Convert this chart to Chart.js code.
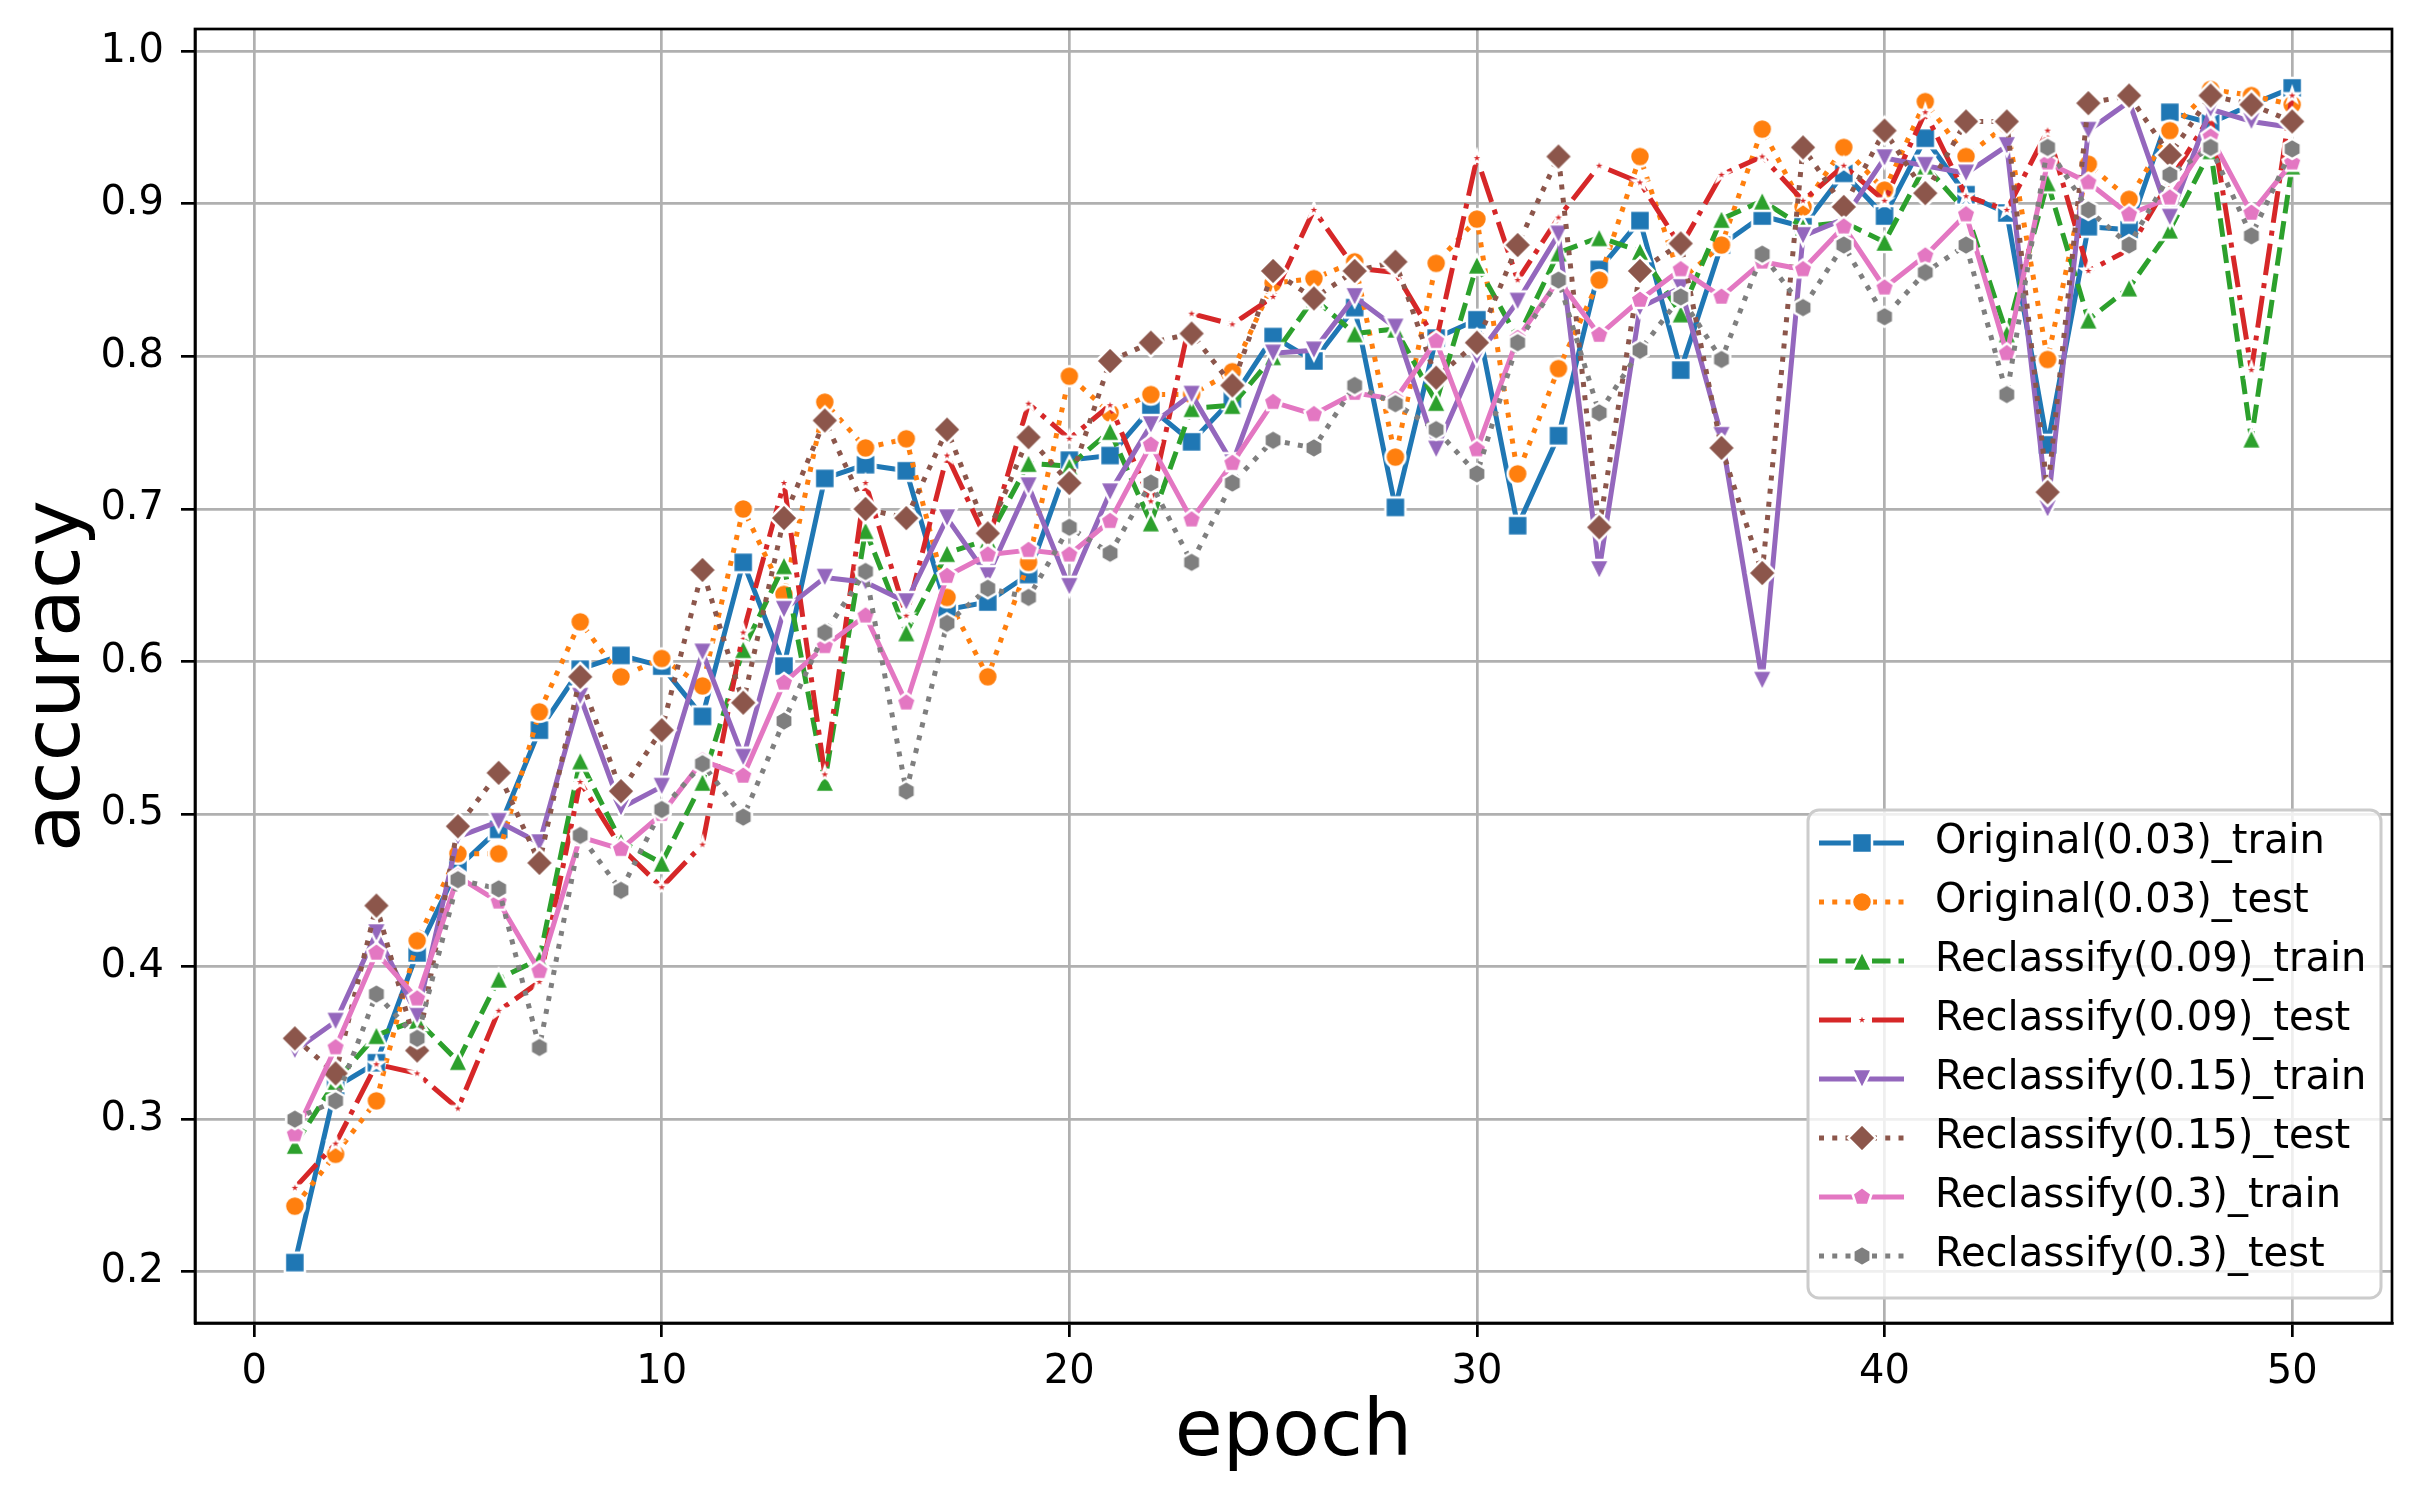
<!DOCTYPE html>
<html>
<head>
<meta charset="utf-8">
<script src="https://cdn.jsdelivr.net/npm/chart.js@4.4.1/dist/chart.umd.min.js"></script>
<style>
html,body{margin:0;padding:0;background:#ffffff;}
canvas{display:block;}
</style>
</head>
<body>
<canvas id="chart" width="2420" height="1501" style="width:2420px;height:1501px"></canvas>
<script>
// ---------------- data ----------------
const epochs = [1,2,3,4,5,6,7,8,9,10,11,12,13,14,15,16,17,18,19,20,21,22,23,24,25,26,27,28,29,30,31,32,33,34,35,36,37,38,39,40,41,42,43,44,45,46,47,48,49,50];
const xTicks = [0,10,20,30,40,50];
const yTicks = [0.2,0.3,0.4,0.5,0.6,0.7,0.8,0.9,1.0];
const seriesNames = ["Original(0.03)_train","Original(0.03)_test","Reclassify(0.09)_train","Reclassify(0.09)_test","Reclassify(0.15)_train","Reclassify(0.15)_test","Reclassify(0.3)_train","Reclassify(0.3)_test"];

const originalTrain = [0.206,0.321,0.337,0.409,0.465,0.490,0.555,0.595,0.604,0.597,0.564,0.665,0.597,0.720,0.729,0.725,0.634,0.639,0.657,0.732,0.735,0.766,0.744,0.772,0.813,0.797,0.832,0.701,0.812,0.824,0.689,0.748,0.857,0.889,0.791,0.873,0.892,0.885,0.920,0.892,0.943,0.906,0.894,0.742,0.885,0.883,0.960,0.953,0.965,0.976];
const originalTest = [0.243,0.277,0.312,0.417,0.474,0.474,0.567,0.626,0.590,0.602,0.584,0.700,0.644,0.770,0.740,0.746,0.642,0.590,0.665,0.787,0.763,0.775,0.775,0.790,0.848,0.851,0.862,0.734,0.861,0.890,0.723,0.792,0.850,0.931,0.850,0.873,0.949,0.898,0.937,0.909,0.967,0.931,0.952,0.798,0.926,0.903,0.948,0.975,0.971,0.965];
const reclass09Train = [0.283,0.325,0.355,0.365,0.338,0.392,0.405,0.535,0.482,0.468,0.521,0.608,0.663,0.521,0.686,0.619,0.671,0.680,0.730,0.728,0.751,0.691,0.766,0.768,0.800,0.838,0.815,0.818,0.770,0.860,0.812,0.868,0.878,0.869,0.828,0.890,0.902,0.885,0.888,0.875,0.925,0.895,0.815,0.914,0.824,0.845,0.883,0.935,0.746,0.925];
const reclass09Test = [0.255,0.284,0.336,0.330,0.307,0.371,0.390,0.521,0.478,0.452,0.480,0.619,0.717,0.526,0.717,0.630,0.735,0.678,0.769,0.746,0.768,0.705,0.828,0.821,0.839,0.896,0.858,0.855,0.810,0.930,0.850,0.891,0.925,0.914,0.872,0.919,0.931,0.902,0.925,0.902,0.960,0.905,0.896,0.948,0.856,0.870,0.915,0.958,0.791,0.971];
const reclass15Train = [0.345,0.364,0.422,0.368,0.485,0.495,0.481,0.577,0.504,0.518,0.606,0.537,0.634,0.655,0.652,0.639,0.694,0.656,0.715,0.649,0.711,0.755,0.775,0.730,0.802,0.804,0.839,0.819,0.739,0.800,0.836,0.880,0.660,0.832,0.845,0.748,0.5875,0.879,0.890,0.930,0.925,0.920,0.938,0.700,0.948,0.967,0.891,0.962,0.954,0.950];
const reclass15Test = [0.353,0.330,0.440,0.345,0.492,0.527,0.468,0.590,0.515,0.555,0.660,0.573,0.694,0.758,0.700,0.694,0.752,0.684,0.747,0.717,0.797,0.809,0.815,0.781,0.856,0.838,0.856,0.862,0.786,0.809,0.873,0.931,0.688,0.856,0.874,0.740,0.658,0.937,0.898,0.948,0.907,0.954,0.954,0.711,0.966,0.971,0.932,0.971,0.965,0.954];
const reclass30Train = [0.290,0.347,0.409,0.379,0.459,0.4425,0.397,0.485,0.477,0.500,0.535,0.525,0.586,0.610,0.630,0.573,0.656,0.670,0.673,0.670,0.692,0.742,0.693,0.730,0.770,0.762,0.776,0.772,0.810,0.739,0.812,0.850,0.814,0.837,0.857,0.839,0.862,0.857,0.885,0.845,0.866,0.893,0.802,0.927,0.914,0.893,0.904,0.944,0.894,0.927];
const reclass30Test = [0.300,0.312,0.382,0.353,0.457,0.451,0.347,0.486,0.450,0.503,0.533,0.498,0.561,0.619,0.659,0.515,0.625,0.648,0.642,0.688,0.671,0.717,0.665,0.717,0.745,0.740,0.781,0.769,0.752,0.723,0.809,0.850,0.763,0.804,0.839,0.798,0.867,0.832,0.873,0.826,0.855,0.873,0.775,0.937,0.896,0.873,0.919,0.937,0.879,0.936];

const seriesValues = [originalTrain, originalTest, reclass09Train, reclass09Test, reclass15Train, reclass15Test, reclass30Train, reclass30Test];

// ---------------- styles ----------------
const colors = ['#1f77b4','#ff7f0e','#2ca02c','#d62728','#9467bd','#8c564b','#e377c2','#7f7f7f'];
const markers = ['s','o','^','*','v','D','p','h'];
const DOT = [5, 8.25], DASH = [18.5, 8], DASHDOT = [32, 8, 5, 8], SOLID = [];
const dashes = [SOLID, DOT, DASH, DASHDOT, SOLID, DOT, SOLID, DOT];
const FONT = "'DejaVu Sans', 'Liberation Sans', sans-serif";

function polyPath(ctx, cx, cy, n, r, startAngle) {
  ctx.beginPath();
  for (let k = 0; k < n; k++) {
    const a = startAngle + k * 2 * Math.PI / n;
    const px = cx + r * Math.cos(a), py = cy + r * Math.sin(a);
    if (k === 0) ctx.moveTo(px, py); else ctx.lineTo(px, py);
  }
  ctx.closePath();
}

function makeMarker(kind, color) {
  const S = 40, c = S / 2;
  const cv = document.createElement('canvas');
  cv.width = S; cv.height = S;
  const ctx = cv.getContext('2d');
  ctx.fillStyle = color;
  ctx.strokeStyle = '#ffffff';
  ctx.lineWidth = 2.5;
  ctx.lineJoin = 'miter';
  const up = -Math.PI / 2;
  switch (kind) {
    case 's':
      ctx.beginPath(); ctx.rect(c - 10, c - 10, 20, 20); break;
    case 'o':
      ctx.beginPath(); ctx.arc(c, c, 10, 0, 2 * Math.PI); break;
    case '^':
      ctx.beginPath(); ctx.moveTo(c, c - 10); ctx.lineTo(c + 10, c + 10); ctx.lineTo(c - 10, c + 10); ctx.closePath(); break;
    case 'v':
      ctx.beginPath(); ctx.moveTo(c, c + 10); ctx.lineTo(c + 10, c - 10); ctx.lineTo(c - 10, c - 10); ctx.closePath(); break;
    case 'D':
      polyPath(ctx, c, c, 4, 14, up); break;
    case 'p':
      polyPath(ctx, c, c, 5, 10, up); break;
    case 'h':
      polyPath(ctx, c, c, 6, 10, up); break;
    case '*': {
      const R = 7.5, r = R * 0.381966;
      ctx.beginPath();
      for (let k = 0; k < 10; k++) {
        const a = up + k * Math.PI / 5;
        const rr = (k % 2 === 0) ? R : r;
        const px = c + rr * Math.cos(a), py = c + rr * Math.sin(a);
        if (k === 0) ctx.moveTo(px, py); else ctx.lineTo(px, py);
      }
      ctx.closePath();
      break;
    }
  }
  ctx.fill();
  ctx.stroke();
  return cv;
}

const markerImgs = markers.map((m, i) => makeMarker(m, colors[i]));

const datasets = seriesValues.map((vals, i) => ({
  label: seriesNames[i],
  data: epochs.map((e, k) => ({ x: e, y: vals[k] })),
  borderColor: colors[i],
  backgroundColor: colors[i],
  borderWidth: 5,
  borderDash: dashes[i],
  borderCapStyle: 'butt',
  borderJoinStyle: 'round',
  tension: 0,
  fill: false,
  pointStyle: markerImgs[i],
  pointRadius: 10,
  pointHoverRadius: 10,
  order: seriesValues.length - 1 - i
}));

// ---------------- layout constants ----------------
const AREA = { left: 195, right: 2392, top: 29, bottom: 1323 };
const W = 2420, H = 1501;

function zeroPadding(scale) {
  scale.paddingTop = 0;
  scale.paddingBottom = 0;
  scale.paddingLeft = 0;
  scale.paddingRight = 0;
}

const spinesPlugin = {
  id: 'spines',
  afterDatasetsDraw(chart) {
    const { ctx, chartArea: a } = chart;
    ctx.save();
    ctx.strokeStyle = '#000000';
    ctx.lineWidth = 2.7;
    ctx.setLineDash([]);
    ctx.strokeRect(a.left, a.top, a.right - a.left, a.bottom - a.top);
    ctx.restore();
  }
};

const legendPlugin = {
  id: 'mplLegend',
  afterDraw(chart) {
    const ctx = chart.ctx;
    const box = { left: 1808, right: 2381, top: 810, bottom: 1298 };
    ctx.save();
    ctx.beginPath();
    ctx.roundRect(box.left, box.top, box.right - box.left, box.bottom - box.top, 11);
    ctx.fillStyle = 'rgba(255,255,255,0.8)';
    ctx.fill();
    ctx.lineWidth = 3;
    ctx.strokeStyle = '#cccccc';
    ctx.stroke();
    const rowY0 = 843, rowStep = 59;
    const hx0 = 1819, hx1 = 1904, mx = 1862, tx = 1935;
    seriesNames.forEach((name, i) => {
      const y = rowY0 + i * rowStep;
      ctx.beginPath();
      ctx.setLineDash(dashes[i]);
      ctx.lineCap = 'butt';
      ctx.lineWidth = 5;
      ctx.strokeStyle = colors[i];
      ctx.moveTo(hx0, y); ctx.lineTo(hx1, y);
      ctx.stroke();
      ctx.setLineDash([]);
      const img = markerImgs[i];
      ctx.drawImage(img, mx - img.width / 2, y - img.height / 2);
      ctx.fillStyle = '#000000';
      ctx.font = '40px ' + FONT;
      ctx.textAlign = 'left';
      ctx.textBaseline = 'middle';
      ctx.fillText(name, tx, y);
    });
    ctx.restore();
  }
};

const gridOpts = {
  color: '#b0b0b0',
  lineWidth: 2.7,
  drawTicks: true,
  tickColor: '#000000',
  tickLength: 14,
  tickWidth: 2.7
};

new Chart(document.getElementById('chart'), {
  type: 'line',
  data: { datasets },
  plugins: [spinesPlugin, legendPlugin],
  options: {
    responsive: false,
    devicePixelRatio: 1,
    animation: false,
    events: [],
    layout: { padding: { left: 0, top: AREA.top, right: W - AREA.right, bottom: 0 } },
    plugins: { legend: { display: false }, tooltip: { enabled: false }, title: { display: false } },
    scales: {
      x: {
        type: 'linear',
        min: -1.45,
        max: 52.45,
        afterBuildTicks(axis) { axis.ticks = xTicks.map(v => ({ value: v })); },
        afterFit(scale) { scale.height = H - AREA.bottom; zeroPadding(scale); },
        grid: gridOpts,
        border: { display: true, color: '#000000', width: 2.7 },
        ticks: {
          color: '#000000',
          font: { family: FONT, size: 40 },
          padding: 12,
          maxRotation: 0,
          autoSkip: false,
          callback: v => String(v)
        },
        title: {
          display: true,
          text: 'epoch',
          color: '#000000',
          font: { family: FONT, size: 78 },
          padding: { top: 0, bottom: 19 }
        }
      },
      y: {
        type: 'linear',
        min: 0.1664,
        max: 1.0146,
        afterBuildTicks(axis) { axis.ticks = yTicks.map(v => ({ value: v })); },
        afterFit(scale) { scale.width = AREA.left; zeroPadding(scale); },
        grid: gridOpts,
        border: { display: true, color: '#000000', width: 2.7 },
        ticks: {
          color: '#000000',
          font: { family: FONT, size: 40 },
          padding: 17,
          autoSkip: false,
          callback: v => Number(v).toFixed(1)
        },
        title: {
          display: true,
          text: 'accuracy',
          color: '#000000',
          font: { family: FONT, size: 78 },
          padding: { top: 12, bottom: 0 }
        }
      }
    }
  }
});
</script>
</body>
</html>
